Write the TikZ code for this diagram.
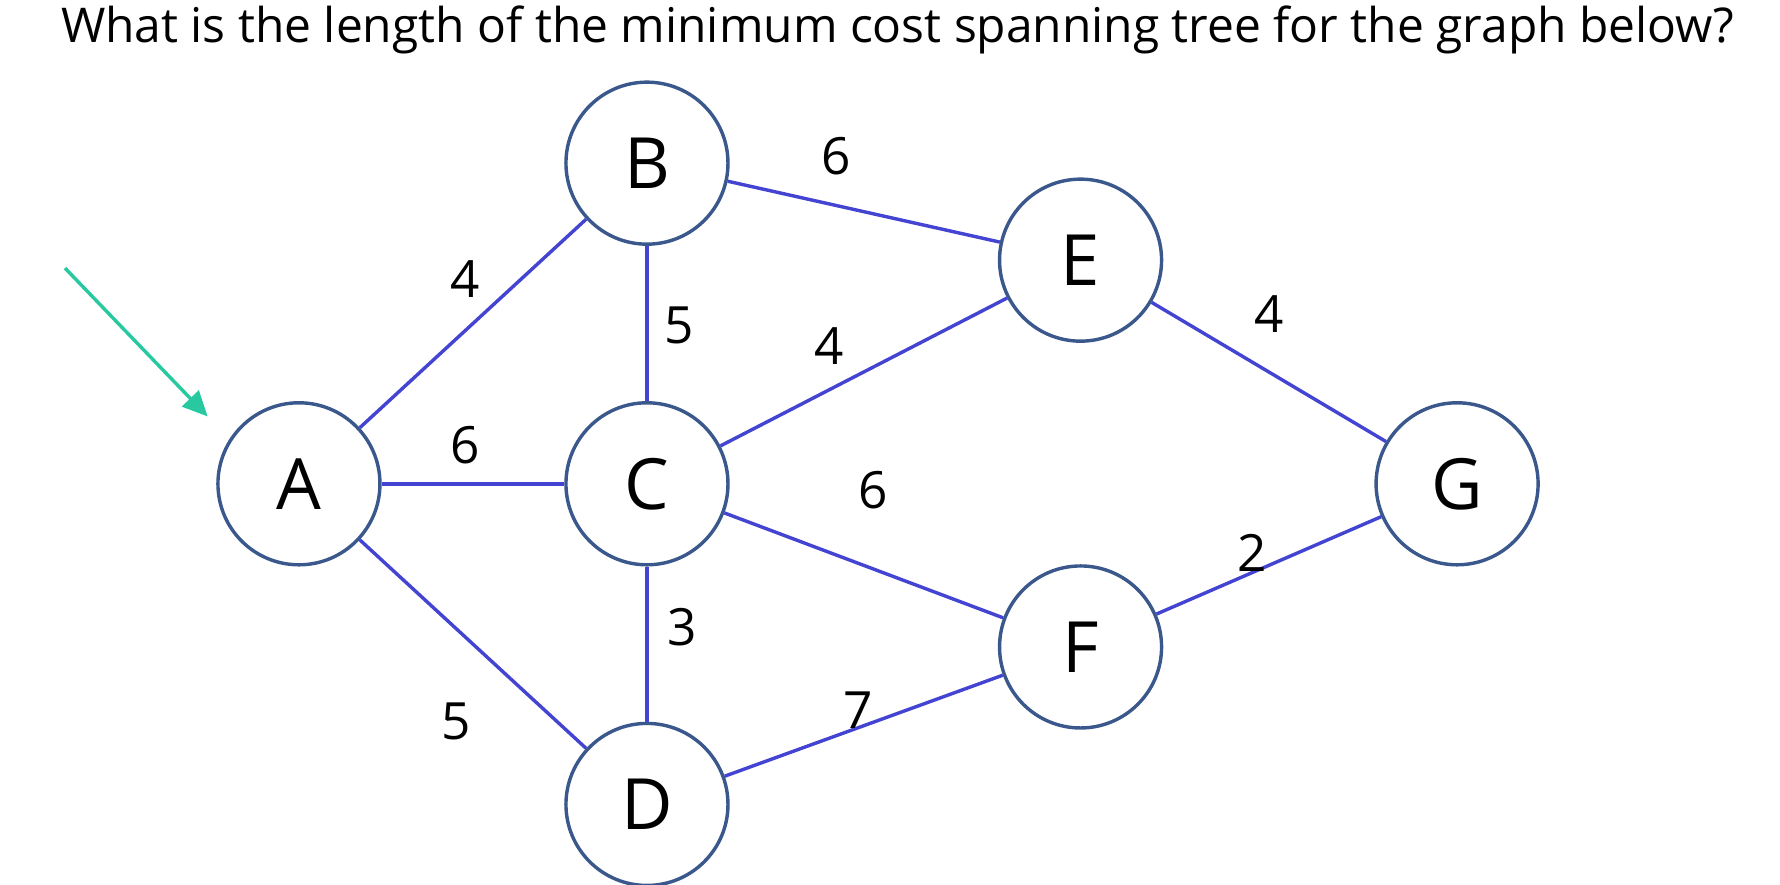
\documentclass[tikz,border=0pt]{standalone}
\usepackage{fontspec}
\setmainfont{Open Sans}
\usetikzlibrary{arrows.meta}
\definecolor{edgec}{RGB}{68,68,210}
\definecolor{ringc}{RGB}{58,88,140}
\definecolor{teal}{RGB}{40,200,160}
\begin{document}
\begin{tikzpicture}[x=1pt,y=-1pt,
  vert/.style={circle,draw=ringc,line width=3pt,minimum size=142pt,inner sep=0pt,font=\fontsize{62}{62}\selectfont},
  edge/.style={draw=edgec,line width=3pt},
  wt/.style={font=\fontsize{45}{45}\selectfont}]
\useasboundingbox (0,0) rectangle (1560,775);
\node[font=\fontsize{42}{42}\selectfont,anchor=west] (title) at (50,26) {What is the length of the minimum cost spanning tree for the graph below?};
\node[vert] (A) at (262,424) {A};
\node[vert] (B) at (567,143) {B};
\node[vert] (C) at (567,424) {C};
\node[vert] (D) at (567,705) {D};
\node[vert] (E) at (947,228) {E};
\node[vert] (F) at (947,567) {F};
\node[vert] (G) at (1277,424) {G};
\draw[edge] (A) -- (B);
\draw[edge] (A) -- (C);
\draw[edge] (A) -- (D);
\draw[edge] (B) -- (C);
\draw[edge] (B) -- (E);
\draw[edge] (C) -- (E);
\draw[edge] (C) -- (F);
\draw[edge] (C) -- (D);
\draw[edge] (D) -- (F);
\draw[edge] (E) -- (G);
\draw[edge] (F) -- (G);
\node[wt] (w1) at (408,245) {4};
\node[wt] (w2) at (595,285) {5};
\node[wt] (w3) at (727,303) {4};
\node[wt] (w4) at (733,137) {6};
\node[wt] (w5) at (1112,275) {4};
\node[wt] (w6) at (408,390) {6};
\node[wt] (w7) at (765,430) {6};
\node[wt] (w8) at (1097,485) {2};
\node[wt] (w9) at (598,550) {3};
\node[wt] (w10) at (400,632) {5};
\node[wt] (w11) at (752,622) {7};
\coordinate (s) at (57,235);
\coordinate (t) at (182,365);
\draw[teal,line width=3pt,-{Triangle[length=22pt,width=20pt]}] (s) -- (t);
\end{tikzpicture}
\end{document}
